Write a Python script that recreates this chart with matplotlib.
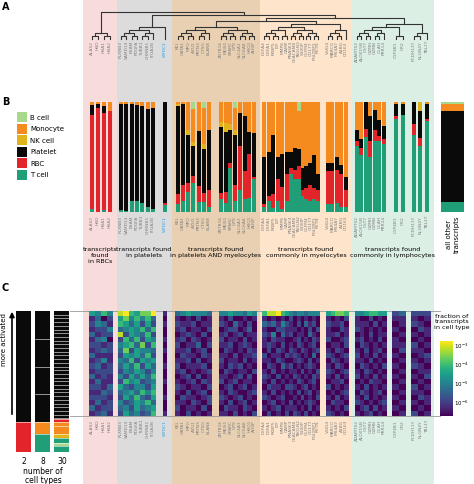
import matplotlib
matplotlib.use("Agg")
import matplotlib.pyplot as plt
import numpy as np
from matplotlib.colors import Normalize

# ---------------- data ----------------
cell_types = ["T cell", "RBC", "Platelet", "NK cell", "Monocyte", "B cell"]  # bottom -> top
legend_order = ["B cell", "Monocyte", "NK cell", "Platelet", "RBC", "T cell"]
cell_colors = {"B cell": "#a8d88c", "Monocyte": "#f58a1f", "NK cell": "#e2b41c",
               "Platelet": "#0a0a0a", "RBC": "#e2252b", "T cell": "#1f9e78"}

groups = ["rbc", "plt", "wfdc", "tan1", "tan2", "or1", "or2", "or3", "gr1", "gr2", "gr3"]
genes = {
    "rbc": ["ALAS2", "HBD", "HBA1", "HBA2"],
    "plt": ["PLXNB3", "SAMD14", "ESAM", "PDGFA", "TUBB1", "CHRNB1", "ITGA2B"],
    "wfdc": ["WFDC1"],
    "tan1": ["KEL", "GATA1", "MPO", "AZU1", "PRTN3", "CTSG", "ELANE"],
    "tan2": ["ZBTB16", "MEIS1", "SPARC", "GP9", "SLC4A1", "SLC6A8", "HBQ1", "AHSP"],
    "or1": ["DEFA4", "DEFA1", "FKBP5", "LTF", "MMP8", "CAMP"],
    "or2": ["RNASE3", "CEACAM8", "TAGLN2", "S100P", "OLFM4", "CD177", "PGLYRP1", "RETN"],
    "or3": ["VSIG4", "MARCO", "MS4A7", "A1BG", "CD163"],
    "gr1": ["ADAMTS2", "ALOX15B", "CST7", "GZMH", "GZMB", "OLAH", "PRR14"],
    "gr2": ["CYP4B1", "CR2"],
    "gr3": ["PCDH11Y", "NLGN4Y", "TBL1Y"],
}
# percent per gene: T cell, RBC, Platelet, NK cell, Monocyte, B cell
fractions = {
    "rbc": [[3, 85, 9, 0, 3, 0], [0, 95, 3, 0, 2, 0], [2, 88, 6, 0, 4, 0], [0, 92, 0, 0, 8, 0]],
    "plt": [[2, 0, 96, 0, 2, 0], [1, 0, 97, 0, 2, 0], [10, 0, 88, 0, 2, 0], [10, 0, 87, 0, 3, 0],
            [8, 0, 88, 0, 4, 0], [5, 0, 89, 0, 6, 0], [3, 0, 92, 0, 5, 0]],
    "wfdc": [[6, 2, 92, 0, 0, 0]],
    "tan1": [[7, 9, 80, 2, 2, 0], [10, 15, 73, 0, 2, 0], [18, 8, 44, 5, 25, 0], [26, 7, 27, 4, 30, 6],
             [9, 15, 50, 0, 26, 0], [9, 8, 40, 5, 33, 5], [5, 15, 55, 0, 25, 0]],
    "tan2": [[12, 5, 60, 5, 18, 0], [8, 10, 55, 8, 19, 0], [40, 5, 30, 5, 20, 0], [10, 15, 45, 5, 20, 5],
             [20, 40, 30, 0, 10, 0], [12, 25, 50, 0, 13, 0], [13, 40, 20, 0, 27, 0], [30, 2, 40, 0, 28, 0]],
    "or1": [[5, 2, 43, 0, 50, 0], [10, 5, 40, 0, 45, 0], [4, 12, 54, 0, 30, 0], [10, 20, 20, 0, 50, 0],
            [3, 20, 30, 0, 47, 0], [10, 25, 20, 0, 45, 0]],
    "or2": [[35, 5, 15, 0, 45, 0], [30, 8, 20, 0, 42, 0], [30, 12, 15, 0, 35, 8], [15, 5, 20, 0, 60, 0],
            [12, 10, 20, 0, 58, 0], [10, 15, 20, 0, 55, 0], [12, 10, 30, 0, 48, 0], [10, 10, 15, 0, 65, 0]],
    "or3": [[7, 30, 8, 0, 55, 0], [7, 30, 8, 0, 55, 0], [8, 30, 12, 0, 50, 0], [5, 30, 8, 0, 57, 0],
            [5, 15, 12, 0, 68, 0]],
    "gr1": [[60, 5, 10, 0, 25, 0], [52, 6, 8, 0, 34, 0], [70, 8, 25, 0, 0, 0], [50, 15, 22, 0, 13, 0],
            [65, 10, 18, 0, 7, 0], [65, 4, 15, 0, 16, 0], [62, 4, 12, 0, 22, 0]],
    "gr2": [[85, 2, 11, 0, 2, 0], [88, 0, 10, 0, 2, 0]],
    "gr3": [[70, 10, 20, 0, 0, 0], [60, 7, 25, 8, 0, 0], [83, 2, 13, 0, 2, 0]],
}
all_other = [9, 0, 83, 0, 6, 2]

group_titles = {"rbc": "transcripts\nfound\nin RBCs", "plt": "transcripts found\nin platelets",
                "tan": "transcripts found\nin platelets AND myelocytes",
                "or": "transcripts found\ncommonly in myelocytes",
                "gr": "transcripts found\ncommonly in lymphocytes"}

# heatmap levels (0..9 -> fraction 1e-6.8 .. 1e-2.75), 20 rows, groups separated by spaces
heat_rows = [
    "5464 8965779 1 3454443 44544354 688965 43443444 56776 4456655 23 222",
    "1302 5746463 0 1010201 10200101 101010 20101010 10102 1002010 11 101",
    "2431 6535252 1 2112011 21031020 323142 10203120 21120 1110201 01 210",
    "1224 3454636 0 1201102 01220130 100221 11010202 10021 2101010 10 021",
    "3122 8254362 0 0121020 12012011 214031 20110310 11201 0102011 01 101",
    "1340 2636254 1 1202101 20110201 102110 01201021 20012 1201020 10 010",
    "2212 4563726 0 2011302 11201210 121020 10210120 01102 0210101 11 201",
    "1232 3725443 1 1120120 02101021 020210 21021012 10210 1020120 02 110",
    "3111 2545362 0 0211021 11020112 201102 12101030 21012 2010201 10 012",
    "1241 4362545 0 1120201 20110201 110210 01210201 02101 1102010 01 101",
    "2312 3536253 1 2011120 10212010 021031 20101210 10210 0210102 10 210",
    "1222 2435424 0 1201012 02101102 102010 11020102 21012 1021010 01 011",
    "3121 4253536 0 0120201 11012020 210201 02101021 10201 2010201 10 102",
    "1311 2645234 1 1012021 20120110 102010 10210120 01120 0102110 01 010",
    "2213 5324425 0 2101102 01201201 021102 21012010 20101 1020101 10 201",
    "1132 3453646 0 1020120 10210012 102010 10201201 01012 0210120 01 110",
    "2221 2536325 1 0211012 21012010 210120 01020102 10201 1020101 10 021",
    "1312 4235463 0 1102102 10201201 012010 20101210 02110 2101012 01 101",
    "3122 3425345 0 2011020 02110210 101201 11010201 10102 0120201 10 010",
    "1231 2534236 1 1020101 11020102 020102 02102010 21010 1012010 01 201",
]

# left panel C: number of cell types
ncell_labels = ["2", "8", "30"]

# ---------------- layout (pixel space) ----------------
W, H = 474, 485
fig = plt.figure(figsize=(W / 100, H / 100), dpi=100)
ax = fig.add_axes([0, 0, 1, 1])
ax.set_xlim(0, W)
ax.set_ylim(H, 0)
ax.axis("off")

spans = {"rbc": (92, 110), "plt": (121, 153), "wfdc": (165, 165), "tan1": (178, 209), "tan2": (221, 254),
         "or1": (264, 287), "or2": (291, 318), "or3": (328, 346), "gr1": (357, 384), "gr2": (396, 403),
         "gr3": (414, 427)}
bands = [(83, 117, "#f8dcdc"), (117, 172, "#dcdcdc"), (172, 260, "#e9d0b2"),
         (260, 352, "#fde4ca"), (352, 434, "#dcefe5")]
for x0, x1, c in bands:
    ax.axvspan(x0, x1, color=c, zorder=0, lw=0)

xpos = {}
for g in groups:
    n = len(genes[g])
    a, b = spans[g]
    xpos[g] = np.linspace(a, b, n) if n > 1 else np.array([a])
bw = 4.0

# ---------------- panel A: dendrogram ----------------
def pair_tree(leaves):
    nodes = list(leaves)
    while len(nodes) > 1:
        nxt = []
        for i in range(0, len(nodes) - 1, 2):
            nxt.append((nodes[i], nodes[i + 1]))
        if len(nodes) % 2:
            nxt.append(nodes[-1])
        nodes = nxt
    return nodes[0]

sub = {g: pair_tree([float(x) for x in xpos[g]]) for g in groups}
tree = (sub["rbc"], (((sub["plt"], sub["wfdc"])), (((sub["tan1"], sub["tan2"]),
        ((sub["or1"], sub["or2"]), sub["or3"])), ((sub["gr1"], sub["gr2"]), sub["gr3"]))))

def draw(node):
    if isinstance(node, float):
        return node, 0
    xl, hl = draw(node[0])
    xr, hr = draw(node[1])
    h = max(hl, hr) + 1
    yl, yr, y = 40 - hl * 3, 40 - hr * 3, 40 - h * 3
    ax.plot([xl, xl, xr, xr], [yl, y, y, yr], color="#333333", lw=0.8, zorder=3)
    return (xl + xr) / 2, h

draw(tree)

def gene_labels(ytop):
    for g in groups:
        for x, name in zip(xpos[g], genes[g]):
            ax.text(x, ytop, name, rotation=90, ha="center", va="top", fontsize=3.2,
                    color="#2b9be0" if name == "WFDC1" else "#808080", zorder=4)

gene_labels(41)
ax.text(2, 2, "A", fontsize=7, fontweight="bold", va="top")

# ---------------- panel B: stacked bars ----------------
yb, hb = 213, 110
for g in groups:
    for x, fr in zip(xpos[g], fractions[g]):
        fr = np.array(fr, float)
        fr = fr / fr.sum()
        bottom = yb
        for ct, f in zip(cell_types, fr):
            if f > 0:
                ax.bar(x, -f * hb, bottom=bottom, width=bw, color=cell_colors[ct], lw=0, zorder=3)
                bottom -= f * hb
fr = np.array(all_other, float) / sum(all_other)
bottom = yb
for ct, f in zip(cell_types, fr):
    if f > 0:
        ax.bar(453, -f * hb, bottom=bottom, width=23, color=cell_colors[ct], lw=0, zorder=3)
        bottom -= f * hb
ax.text(453, 216, "all other\ntranscripts", rotation=90, ha="center", va="top", fontsize=5)
gene_labels(216)
ax.text(2, 97, "B", fontsize=7, fontweight="bold", va="top")
for i, ct in enumerate(legend_order):
    y = 118 + i * 11.5
    ax.add_patch(plt.Rectangle((17, y - 5), 10, 10, color=cell_colors[ct], lw=0))
    ax.text(30, y, ct, fontsize=5, va="center")

title_pos = {"rbc": (100, 247), "plt": (144, 247), "tan": (216, 247), "or": (306, 247), "gr": (393, 247)}
for k, (x, y) in title_pos.items():
    ax.text(x, y, group_titles[k], ha="center", va="top", fontsize=4.6, linespacing=1.2)

# ---------------- panel C: heatmap ----------------
ht, hbm = 312, 417
rows = [r.split() for r in heat_rows]
norm = Normalize(-6.8, -2.8)
for gi, g in enumerate(groups):
    mat = np.array([[int(c) for c in r[gi]] for r in rows], float)
    vals = -6.8 + mat * 0.45
    xs = xpos[g]
    step = (xs[-1] - xs[0]) / (len(xs) - 1) if len(xs) > 1 else bw
    ax.imshow(vals, cmap="viridis", norm=norm, aspect="auto", interpolation="nearest",
              extent=[xs[0] - step / 2, xs[-1] + step / 2, hbm, ht], zorder=3)
ax.plot([70, 440], [ht, ht], color="#999999", lw=0.6, zorder=2)
ax.plot([70, 440], [hbm, hbm], color="#999999", lw=0.6, zorder=2)
gene_labels(420)
ax.text(2, 283, "C", fontsize=7, fontweight="bold", va="top")

# colorbar
cax = fig.add_axes([440 / W, 1 - 417 / H, 13 / W, 75 / H])
cb = fig.colorbar(plt.cm.ScalarMappable(norm=norm, cmap="viridis"), cax=cax)
cb.set_ticks([-3, -4, -5, -6])
cb.set_ticklabels(["$10^{-3}$", "$10^{-4}$", "$10^{-5}$", "$10^{-6}$"])
cb.ax.tick_params(labelsize=4, length=0, pad=1)
cb.outline.set_visible(False)
ax.text(452, 322, "fraction of\ntranscripts\nin cell type", ha="center", va="center", fontsize=4.6,
        linespacing=1.1)

# left stacked bars in C (number of cell types)
ybot, ytop = 453, 312
left_bars = [
    (24, [("RBC", 30), ("Platelet", 111)], 0),
    (43, [("T cell", 18), ("Monocyte", 12), ("Platelet", 111)], 4),
    (62, [("T cell", 6), ("B cell", 3), ("T cell", 5), ("NK cell", 4), ("Monocyte", 8), ("Monocyte", 4),
          ("RBC", 3), ("Platelet", 108)], 30),
]
for x, segs, nlines in left_bars:
    b = ybot
    for ct, h in segs:
        ax.bar(x, -h, bottom=b, width=15, color=cell_colors[ct], lw=0, zorder=3)
        if ct != "Platelet":
            ax.plot([x - 7.5, x + 7.5], [b - h, b - h], color="white", lw=0.4, zorder=4)
        b -= h
    if nlines:
        for yy in np.linspace(ytop, 423, nlines + 1)[1:-1]:
            ax.plot([x - 7.5, x + 7.5], [yy, yy], color="white", lw=0.4, zorder=4)
for x, lab in zip([24, 43, 62], ncell_labels):
    ax.text(x, 462, lab, ha="center", va="center", fontsize=5.5)
ax.text(43, 476, "number of\ncell types", ha="center", va="center", fontsize=5.5, linespacing=1.1)
ax.annotate("", xy=(12, 310), xytext=(12, 418),
            arrowprops=dict(arrowstyle="-|>", color="black", lw=1.2, mutation_scale=7))
ax.text(4, 340, "more activated", rotation=90, ha="center", va="center", fontsize=5)

fig.savefig("out.png", dpi=100)
